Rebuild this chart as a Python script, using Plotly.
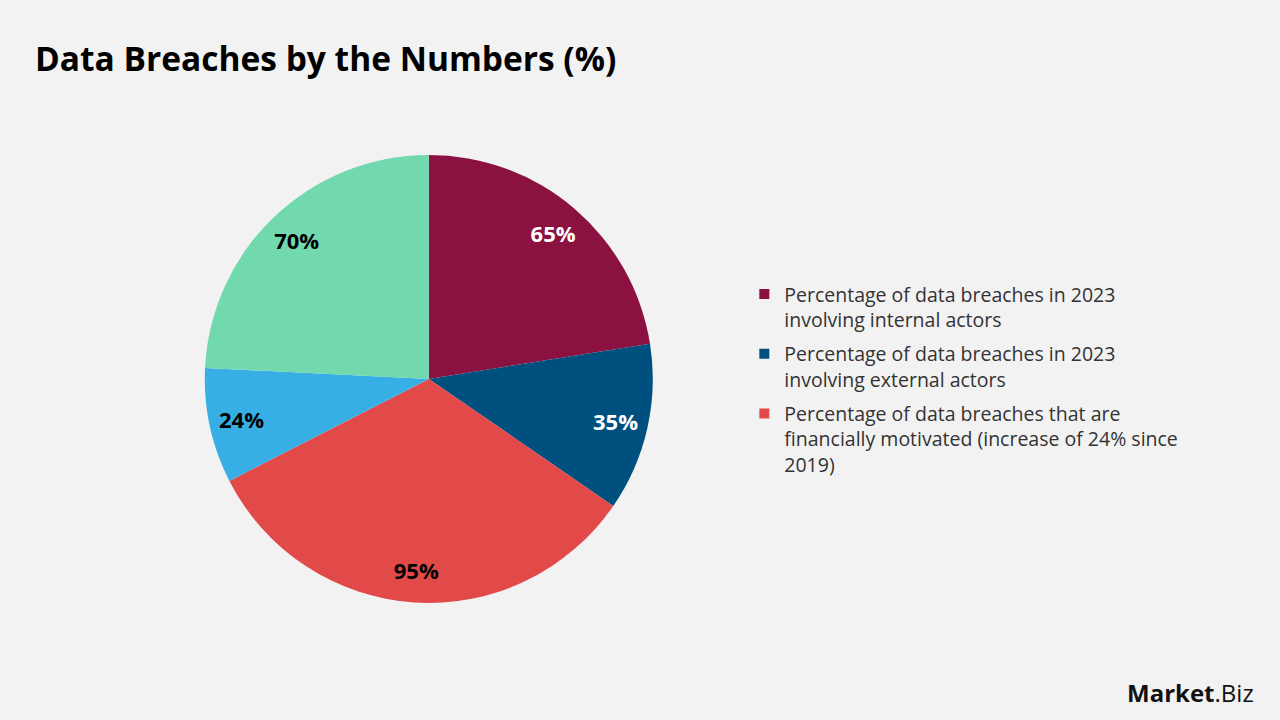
import plotly.graph_objects as go

# slice values (%) in clockwise order from 12 o'clock
slice_labels = [
    "Percentage of data breaches in 2023 involving internal actors",
    "Percentage of data breaches in 2023 involving external actors",
    "Percentage of data breaches that are financially motivated (increase of 24% since 2019)",
    "24% slice",
    "70% slice",
]
slice_values = [65, 35, 95, 24, 70]
slice_colors = ["#8B1140", "#00507F", "#E24A4A", "#38AFE4", "#72D8AE"]
text_colors = ["white", "white", "black", "black", "black"]

# only the first three slices appear in the legend
legend_names = [
    "Percentage of data breaches in 2023<br>involving internal actors",
    "Percentage of data breaches in 2023<br>involving external actors",
    "Percentage of data breaches that are<br>financially motivated (increase of 24% since<br>2019)",
]

FONT = "Open Sans"
pie_domain = dict(x=[0.16, 0.51], y=[0.1625, 0.785])

fig = go.Figure()
# filled pie, no text
fig.add_trace(go.Pie(
    labels=slice_labels,
    values=slice_values,
    sort=False,
    direction="clockwise",
    rotation=0,
    marker=dict(colors=slice_colors, line=dict(width=0)),
    textinfo="none",
    showlegend=False,
    hoverinfo="label+value",
    domain=pie_domain,
))
# transparent ring on top, so the labels sit near the outer edge
fig.add_trace(go.Pie(
    labels=slice_labels,
    values=slice_values,
    sort=False,
    direction="clockwise",
    rotation=0,
    hole=0.71,
    marker=dict(colors=["rgba(0,0,0,0)"] * len(slice_values), line=dict(width=0)),
    texttemplate="<b>%{value}%</b>",
    textposition="inside",
    insidetextorientation="horizontal",
    insidetextfont=dict(family=FONT, size=22, color=text_colors),
    showlegend=False,
    hoverinfo="skip",
    domain=pie_domain,
))

for i, name in enumerate(legend_names):
    fig.add_trace(go.Scatter(
        x=[None], y=[None], mode="markers", name=name,
        legendgroup=f"g{i}",
        marker=dict(symbol="square", size=10, color=slice_colors[i]),
    ))

fig.update_layout(
    width=1280, height=720,
    paper_bgcolor="#F2F2F2", plot_bgcolor="#F2F2F2",
    margin=dict(l=0, r=0, t=0, b=0),
    xaxis=dict(visible=False), yaxis=dict(visible=False),
    legend=dict(
        x=0.5815, y=0.473, xanchor="left", yanchor="middle", valign="top",
        font=dict(family=FONT, size=19.5, color="#333333"),
        bgcolor="rgba(0,0,0,0)", tracegroupgap=6, itemwidth=30,
    ),
)

fig.add_annotation(
    text="<b>Data Breaches by the Numbers (%)</b>",
    xref="paper", yref="paper", x=0.026, y=0.92, xanchor="left", yanchor="middle",
    showarrow=False, font=dict(family=FONT, size=33.5, color="black"),
)
fig.add_annotation(
    text="<b>Market</b>.Biz",
    xref="paper", yref="paper", x=0.981, y=0.038, xanchor="right", yanchor="middle",
    showarrow=False, font=dict(family=FONT, size=24, color="#111111"),
)

fig.write_html("out.html", config=dict(displayModeBar=False),
               post_script="document.body.style.margin='0';")
